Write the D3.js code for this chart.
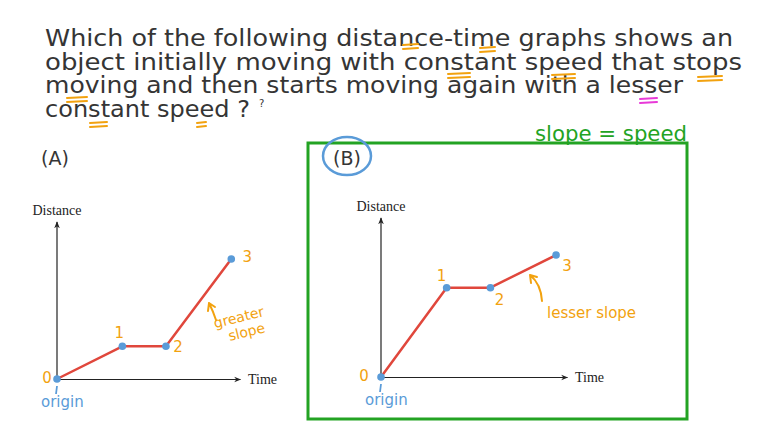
<!DOCTYPE html>
<html>
<head>
<meta charset="utf-8">
<script src="https://cdn.jsdelivr.net/npm/d3@7"></script>
<style>
  body { margin: 0; background: #fff; }
  svg { display: block; }
</style>
</head>
<body>
<script>
// question text, one entry per written line
var questionLines = [
  "Which of the following distance-time graphs shows an",
  "object initially moving with constant speed that stops",
  "moving and then starts moving again with a lesser",
  "constant speed ?"
];
// time at the 4 marked points (same for both graphs)
var pointTimes = [0, 3, 5, 8];
var pointLabels = ["0", "1", "2", "3"];
// distance at the 4 marked points
var distanceA = [0, 1.5, 1.5, 5.5];
var distanceB = [0, 4.1, 4.1, 5.6];
var panelNames = ["(A)", "(B)"];

var width = 760, height = 427;
var textColor = "#353535";
var orange = "#f2a20f";
var blue = "#5a9bd8";
var red = "#e0473c";
var green = "#23a323";

var svg = d3.select("body").append("svg")
  .attr("width", width)
  .attr("height", height);

// arrow head for the axes
svg.append("defs").append("marker")
  .attr("id", "axisArrow")
  .attr("viewBox", "0 0 10 10")
  .attr("refX", 9).attr("refY", 5)
  .attr("markerWidth", 7).attr("markerHeight", 7)
  .attr("markerUnits", "userSpaceOnUse")
  .attr("orient", "auto")
  .append("path")
  .attr("d", "M0,1L10,5L0,9L3,5Z")
  .attr("fill", "#222");

// question lines, stretched to the width of the handwriting
var lineWidths = [688, 697, 638, 205];
svg.selectAll("text.question")
  .data(questionLines)
  .join("text")
  .attr("class", "question")
  .attr("x", 45)
  .attr("y", function(d, i) { return 46 + i * 23.5; })
  .attr("textLength", function(d, i) { return lineWidths[i]; })
  .attr("lengthAdjust", "spacingAndGlyphs")
  .style("font-family", "'DejaVu Sans', sans-serif")
  .style("font-size", "23px")
  .style("fill", textColor)
  .text(function(d) { return d; });

// little inserted mark between "then" and "starts"
svg.append("text")
  .attr("x", 259).attr("y", 107)
  .style("font-family", "'DejaVu Sans', sans-serif")
  .style("font-size", "10px")
  .style("fill", textColor)
  .text("?");

// the double dashes the teacher drew under some words
var highlights = [
  [403, 418, 45, orange], [480, 495, 48, orange],
  [448, 470, 74, orange], [552, 575, 75, orange], [698, 722, 77, orange],
  [67, 87, 98, orange], [640, 657, 99, "#e83ad8"],
  [90, 107, 123, orange], [197, 206, 123, orange]
];
highlights.forEach(function(h) {
  [0, 4].forEach(function(off) {
    svg.append("line")
      .attr("x1", h[0]).attr("x2", h[1])
      .attr("y1", h[2] + off).attr("y2", h[2] + off - 1)
      .style("stroke", h[3])
      .style("stroke-width", 2)
      .style("stroke-linecap", "round");
  });
});

// green box round graph B
svg.append("rect")
  .attr("x", 308).attr("y", 143)
  .attr("width", 379).attr("height", 276)
  .attr("fill", "none")
  .style("stroke", green)
  .style("stroke-width", 3);

svg.append("text")
  .attr("x", 535).attr("y", 141)
  .attr("textLength", 152)
  .attr("lengthAdjust", "spacingAndGlyphs")
  .style("font-family", "'DejaVu Sans', sans-serif")
  .style("font-size", "22px")
  .style("fill", green)
  .text("slope = speed");

// panel names
svg.selectAll("text.panel")
  .data(panelNames)
  .join("text")
  .attr("class", "panel")
  .attr("x", function(d, i) { return i === 0 ? 55 : 347; })
  .attr("y", 165)
  .attr("text-anchor", "middle")
  .style("font-family", "'DejaVu Sans', sans-serif")
  .style("font-size", "19px")
  .style("fill", textColor)
  .text(function(d) { return d; });

// blue ring round the chosen answer
svg.append("ellipse")
  .attr("cx", 347).attr("cy", 156)
  .attr("rx", 24).attr("ry", 19)
  .attr("fill", "none")
  .style("stroke", blue)
  .style("stroke-width", 2.5);

function drawGraph(distances, x0, x1, y0, y1, xMax, yMax) {
  var x = d3.scaleLinear().domain([0, xMax]).range([x0, x1]);
  var y = d3.scaleLinear().domain([0, yMax]).range([y0, y1]);

  var g = svg.append("g");

  // axes without ticks, just the lines with arrow heads
  var xAxis = g.append("g")
    .attr("transform", "translate(0," + y0 + ")")
    .call(d3.axisBottom(x).tickValues([]).tickSizeOuter(0));
  var yAxis = g.append("g")
    .attr("transform", "translate(" + x0 + ",0)")
    .call(d3.axisLeft(y).tickValues([]).tickSizeOuter(0));
  g.selectAll(".domain")
    .attr("stroke", "#222")
    .attr("stroke-width", 1.2)
    .attr("marker-end", "url(#axisArrow)");
  // y axis path runs top to bottom, so flip it for the arrow
  yAxis.select(".domain").attr("d", "M0," + y0 + "V" + y1);

  g.append("text")
    .attr("x", x0).attr("y", y1 - 7)
    .attr("text-anchor", "middle")
    .style("font-family", "'Liberation Serif', serif")
    .style("font-size", "14px")
    .style("fill", "#222")
    .text("Distance");
  g.append("text")
    .attr("x", x1 + 8).attr("y", y0 + 5)
    .style("font-family", "'Liberation Serif', serif")
    .style("font-size", "14px")
    .style("fill", "#222")
    .text("Time");

  var pts = pointTimes.map(function(t, i) { return [t, distances[i]]; });

  g.append("path")
    .datum(pts)
    .attr("fill", "none")
    .attr("stroke", red)
    .attr("stroke-width", 2.5)
    .attr("stroke-linejoin", "round")
    .attr("d", d3.line()
      .x(function(d) { return x(d[0]); })
      .y(function(d) { return y(d[1]); }));

  g.selectAll("circle")
    .data(pts)
    .join("circle")
    .attr("cx", function(d) { return x(d[0]); })
    .attr("cy", function(d) { return y(d[1]); })
    .attr("r", 3.8)
    .attr("fill", blue);

  // "origin" note under the first point
  g.append("line")
    .attr("x1", x0).attr("x2", x0 - 1)
    .attr("y1", y0 + 7).attr("y2", y0 + 15)
    .style("stroke", blue)
    .style("stroke-width", 1.8);
  g.append("text")
    .attr("x", x0 - 16).attr("y", y0 + 28)
    .style("font-family", "'DejaVu Sans', sans-serif")
    .style("font-size", "15px")
    .style("fill", blue)
    .text("origin");

  return { x: x, y: y, g: g, pts: pts };
}

function pointLabel(graph, offsets) {
  graph.g.selectAll("text.num")
    .data(graph.pts)
    .join("text")
    .attr("class", "num")
    .attr("x", function(d, i) { return graph.x(d[0]) + offsets[i][0]; })
    .attr("y", function(d, i) { return graph.y(d[1]) + offsets[i][1]; })
    .attr("text-anchor", "middle")
    .style("font-family", "'DejaVu Sans', sans-serif")
    .style("font-size", "15px")
    .style("fill", orange)
    .text(function(d, i) { return pointLabels[i]; });
}

var graphA = drawGraph(distanceA, 57, 240, 379, 222, 8.4, 7.2);
var graphB = drawGraph(distanceB, 381, 567, 377, 218, 8.5, 7.3);

pointLabel(graphA, [[-10, 4], [-3, -8], [12, 6], [16, 3]]);
pointLabel(graphB, [[-17, 4], [-5, -7], [9, 17], [11, 16]]);

// "greater slope" note on graph A
var noteA = svg.append("g")
  .attr("transform", "translate(240,322) rotate(-14)");
noteA.append("text")
  .attr("x", 0).attr("y", 0)
  .attr("text-anchor", "middle")
  .style("font-family", "'DejaVu Sans', sans-serif")
  .style("font-size", "14px")
  .style("fill", orange)
  .text("greater");
noteA.append("text")
  .attr("x", 4).attr("y", 16)
  .attr("text-anchor", "middle")
  .style("font-family", "'DejaVu Sans', sans-serif")
  .style("font-size", "14px")
  .style("fill", orange)
  .text("slope");
svg.append("path")
  .attr("d", "M216,320 Q213,311 209,303 M209,303 L208,311 M209,303 L215,307")
  .attr("fill", "none")
  .style("stroke", orange)
  .style("stroke-width", 2)
  .style("stroke-linecap", "round");

// "lesser slope" note on graph B
svg.append("text")
  .attr("x", 547).attr("y", 318)
  .style("font-family", "'DejaVu Sans', sans-serif")
  .style("font-size", "15px")
  .style("fill", orange)
  .text("lesser slope");
svg.append("path")
  .attr("d", "M542,301 Q541,284 530,275 M530,275 L531,283 M530,275 L537,277")
  .attr("fill", "none")
  .style("stroke", orange)
  .style("stroke-width", 2)
  .style("stroke-linecap", "round");
</script>
</body>
</html>
